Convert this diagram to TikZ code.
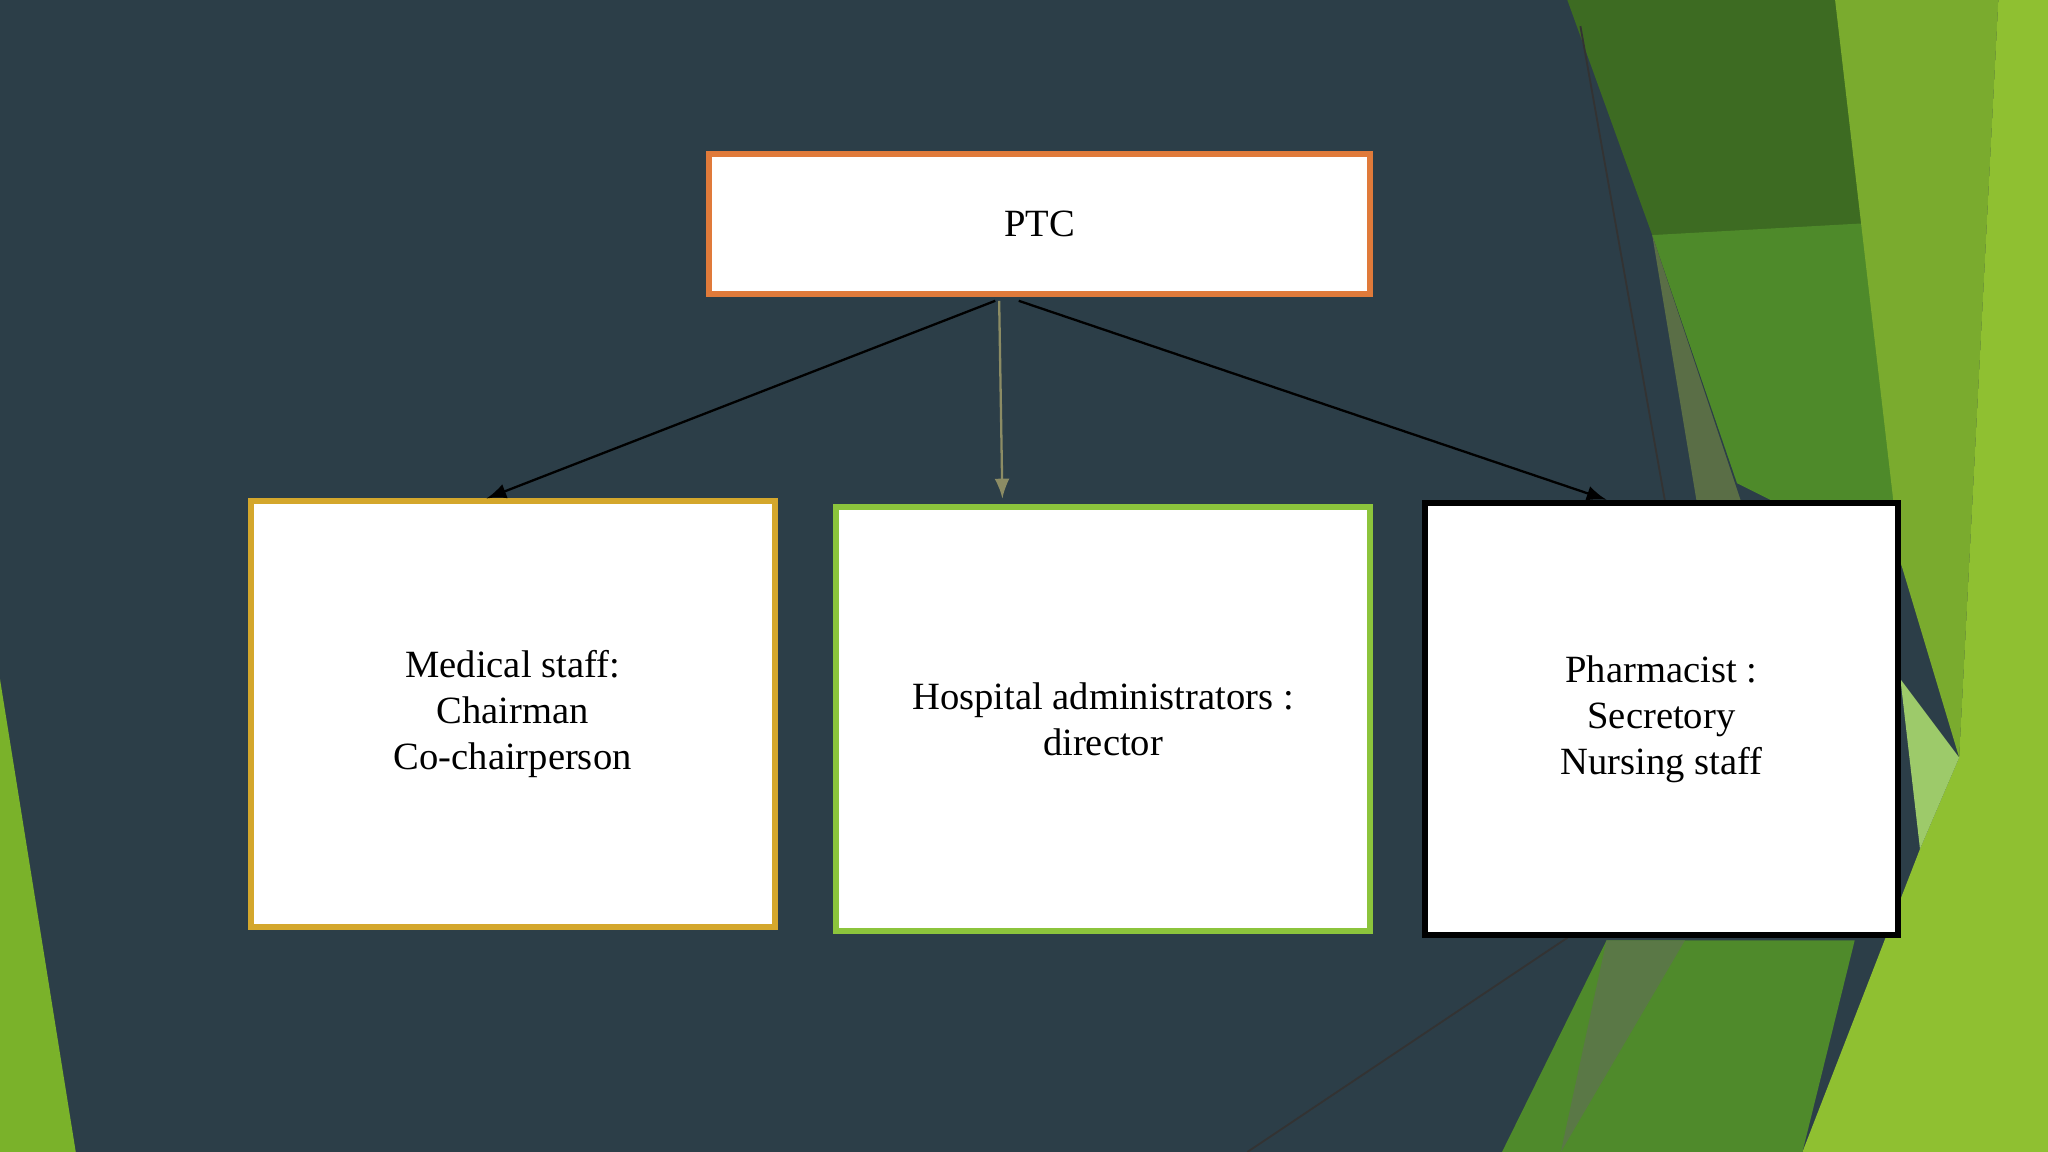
\documentclass[tikz,border=0pt]{standalone}
\usepackage{fontspec}
\setmainfont{Liberation Serif}
\begin{document}
\begin{tikzpicture}[x=0.01cm,y=-0.01cm,
  box/.style={draw,line width=1.3pt,fill=white,inner sep=0pt,align=center,font=\fontsize{8.4}{10}\selectfont},
  arr/.style={-latex,line width=0.5pt,black}]
\fill[fill={rgb,255:red,44;green,62;blue,72}] (0,0) rectangle (1568,882);
\useasboundingbox (0,0) rectangle (1568,882);
% green decoration
\fill[fill={rgb,255:red,61;green,107;blue,34}] (1200,0)--(1420,0)--(1460,300)--(1330,370)--(1265,180)--cycle;
\fill[fill={rgb,255:red,78;green,138;blue,42}] (1265,180)--(1330,370)--(1470,440)--(1445,170)--cycle;
\fill[fill={rgb,255:red,90;green,110;blue,70}] (1265,180)--(1300,390)--(1335,390)--cycle;
\fill[fill={rgb,255:red,122;green,171;blue,46}] (1405,0)--(1530,0)--(1500,580)--(1455,430)--cycle;
\fill[fill={rgb,255:red,143;green,192;blue,49}] (1530,0)--(1568,0)--(1568,882)--(1380,882)--(1470,650)--(1500,580)--cycle;
\fill[fill={rgb,255:red,157;green,202;blue,106}] (1500,580)--(1470,650)--(1455,520)--cycle;
\fill[fill={rgb,255:red,79;green,138;blue,43}] (1150,882)--(1230,720)--(1420,720)--(1380,882)--cycle;
\fill[fill={rgb,255:red,90;green,120;blue,70}] (1195,882)--(1230,720)--(1290,720)--cycle;
\fill[fill={rgb,255:red,122;green,178;blue,42}] (0,520)--(58,882)--(0,882)--cycle;
\draw[black!80,line width=0.4pt] (1210,20)--(1275,385);
\draw[black!80,line width=0.4pt] (1200,718)--(955,882);
% boxes
\node[box,draw={rgb,255:red,224;green,122;blue,58},minimum width=5.06cm,minimum height=1.07cm] (ptc) at (796,171.5) {PTC};
\node[box,draw={rgb,255:red,212;green,167;blue,44},minimum width=4.01cm,minimum height=3.26cm] (med) at (392.5,547) {Medical staff:\\Chairman\\Co-chairperson};
\node[box,draw={rgb,255:red,140;green,196;blue,60},minimum width=4.09cm,minimum height=3.25cm] (hos) at (844.5,550.5) {Hospital administrators :\\director};
\node[box,draw=black,minimum width=3.62cm,minimum height=3.31cm] (pha) at (1272,550.5) {Pharmacist :\\Secretory\\Nursing staff};
\draw[arr] ([xshift=-0.34cm,yshift=-0.03cm]ptc.south) -- ([xshift=-0.2cm]med.north);
\draw[-latex,line width=0.5pt,draw={rgb,255:red,140;green,140;blue,100}] ([xshift=-0.31cm,yshift=-0.03cm]ptc.south) -- ([xshift=-0.77cm,yshift=0.04cm]hos.north);
\draw[arr] ([xshift=-0.16cm,yshift=-0.03cm]ptc.south) -- ([xshift=-0.42cm]pha.north);
\end{tikzpicture}
\end{document}
